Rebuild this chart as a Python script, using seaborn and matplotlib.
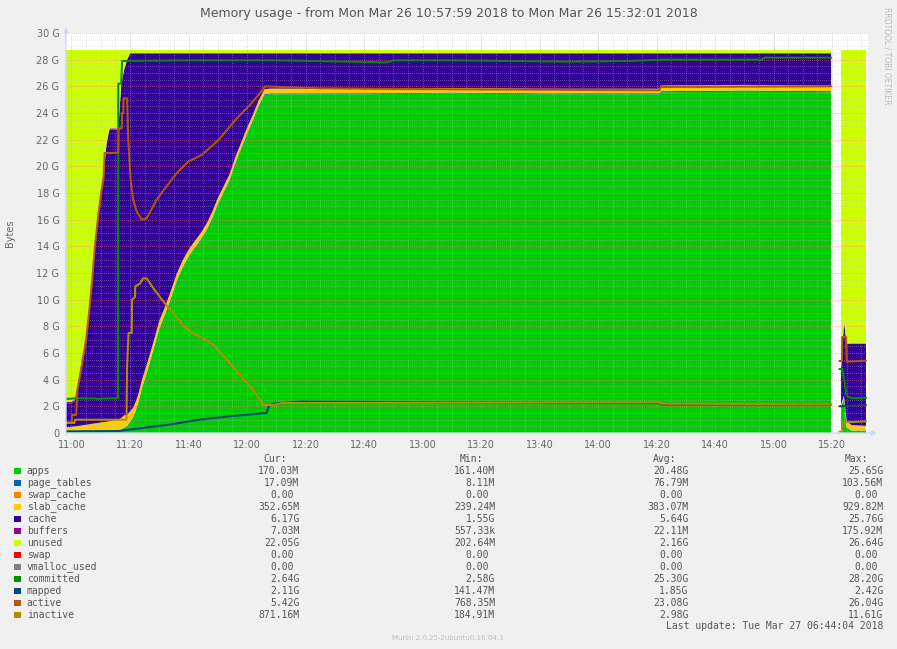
import numpy as np
import pandas as pd
import seaborn as sns
import matplotlib
matplotlib.use("Agg")
import matplotlib.pyplot as plt
from matplotlib.patches import Rectangle
from matplotlib.ticker import MultipleLocator

nan = np.nan

# time in minutes after 11:00, shared grid of the stacked areas (261 = no data)
t_area = [-2, -1, 0, 1, 2, 3, 4, 5, 6, 7, 8, 9, 10, 11, 12, 13, 14, 15, 16, 17, 18, 19, 20,
          21, 22, 23, 24, 26, 28, 30, 32, 34, 36, 38, 40, 42, 44, 46, 48, 50, 52, 54, 56, 58,
          60, 62, 64, 66, 68, 70, 100, 130, 160, 201, 201.5, 230, 259.7, 261,
          263.1, 264.1, 265.0, 266.7, 271.6]

# stacked areas, GB
apps = [0.17, 0.17, 0.17, 0.17, 0.17, 0.17, 0.17, 0.17, 0.17, 0.17, 0.17, 0.17, 0.17, 0.17,
        0.17, 0.17, 0.17, 0.17, 0.17, 0.25, 0.4, 0.5, 0.85, 1.15, 1.7, 2.4, 3.3,
        4.7, 6.2, 7.8, 8.9, 10.1, 11.4, 12.4, 13.2, 13.8, 14.4, 15.1, 16.0, 17.1, 18.0, 18.9,
        20.2, 21.3, 22.4, 23.4, 24.5, 25.35, 25.4, 25.4,
        25.4, 25.45, 25.4, 25.4, 25.55, 25.6, 25.55, nan,
        2.0, 2.5, 0.4, 0.17, 0.17]
page_tables = [0.02, 0.02, 0.02, 0.02, 0.02, 0.02, 0.02, 0.02, 0.02, 0.02, 0.02, 0.02, 0.02,
               0.02, 0.02, 0.02, 0.02, 0.02, 0.02, 0.02, 0.02, 0.02, 0.02, 0.02, 0.02, 0.02, 0.02,
               0.05, 0.05, 0.05, 0.05, 0.05, 0.05, 0.05, 0.05, 0.08, 0.08, 0.08, 0.08, 0.08, 0.08,
               0.08, 0.08, 0.08, 0.08, 0.08, 0.08, 0.08, 0.08, 0.08,
               0.09, 0.09, 0.09, 0.09, 0.09, 0.09, 0.09, nan,
               0.02, 0.02, 0.02, 0.02, 0.02]
slab_cache = [0.25, 0.25, 0.27, 0.3, 0.33, 0.36, 0.4, 0.43, 0.46, 0.5, 0.53, 0.56, 0.6, 0.63,
              0.66, 0.7, 0.73, 0.78, 0.82, 0.87, 0.9, 0.85, 0.75, 0.7, 0.65, 0.6, 0.6,
              0.58, 0.56, 0.55, 0.53, 0.52, 0.5, 0.5, 0.48, 0.47, 0.46, 0.45, 0.44, 0.43, 0.42,
              0.41, 0.4, 0.4, 0.39, 0.38, 0.37, 0.36, 0.35, 0.35,
              0.33, 0.33, 0.33, 0.33, 0.42, 0.42, 0.42, nan,
              0.1, 0.3, 0.45, 0.4, 0.35]
cache = [1.79, 1.79, 1.77, 1.89, 2.96, 4.13, 5.39, 6.66, 8.73, 10.99, 13.66, 15.63, 17.39,
         18.66, 20.83, 21.86, 21.83, 21.78, 21.74, 24.96, 25.88, 26.6, 26.85, 26.6, 26.1,
         25.45, 24.55,
         23.14, 21.66, 20.07, 18.99, 17.8, 16.52, 15.52, 14.74, 14.12, 13.53, 12.84, 11.95,
         10.86, 9.97, 9.08, 7.79, 6.69, 5.6, 4.61, 3.52, 2.68, 2.64, 2.64,
         2.65, 2.6, 2.65, 2.65, 2.41, 2.36, 2.41, nan,
         2.67, 5.57, 5.82, 6.12, 6.17]
buffers = [0.12, 0.12, 0.12, 0.12, 0.12, 0.12, 0.12, 0.12, 0.12, 0.12, 0.12, 0.12, 0.12, 0.12,
           0.12, 0.1, 0.1, 0.1, 0.1, 0.1, 0.1, 0.03, 0.03, 0.03, 0.03, 0.03, 0.03,
           0.03, 0.03, 0.03, 0.03, 0.03, 0.03, 0.03, 0.03, 0.03, 0.03, 0.03, 0.03, 0.03, 0.03,
           0.03, 0.03, 0.03, 0.03, 0.03, 0.03, 0.03, 0.03, 0.03,
           0.03, 0.03, 0.03, 0.03, 0.03, 0.03, 0.03, nan,
           0.01, 0.01, 0.01, 0.01, 0.01]
unused = [26.37, 26.37, 26.37, 26.22, 25.12, 23.92, 22.62, 21.32, 19.22, 16.92, 14.22, 12.22,
          10.42, 9.12, 6.92, 5.87, 5.87, 5.87, 5.87, 2.52, 1.42, 0.72, 0.22, 0.22, 0.22, 0.22,
          0.22,
          0.22, 0.22, 0.22, 0.22, 0.22, 0.22, 0.22, 0.22, 0.22, 0.22, 0.22, 0.22, 0.22, 0.22,
          0.22, 0.22, 0.22, 0.22, 0.22, 0.22, 0.22, 0.22, 0.22,
          0.22, 0.22, 0.22, 0.22, 0.22, 0.22, 0.22, nan,
          23.92, 20.32, 22.02, 22.0, 22.0]

# line series (own time points), GB
committed_t = [-2, 1, 8, 9, 12, 15.9, 16.0, 17.0, 17.3, 40, 70, 108, 110, 130, 170, 190, 202,
               236, 237, 259.7, 262.5, 263.5, 264.5, 265.0, 266.7, 271.6]
committed_v = [2.55, 2.6, 2.6, 2.55, 2.6, 2.6, 26.2, 26.2, 27.9, 27.95, 27.95, 27.8, 27.95,
               27.95, 27.85, 27.9, 28.0, 28.0, 28.15, 28.15, 4.8, 4.8, 3.5, 2.8, 2.6, 2.64]
mapped_t = [-2, 16, 23.4, 32.5, 43.9, 55.3, 66.7, 67.5, 69, 78, 140, 201, 201.5, 259.7,
            262.5, 271.6]
mapped_v = [0.12, 0.15, 0.35, 0.6, 1.0, 1.28, 1.5, 2.05, 2.2, 2.35, 2.3, 2.25, 2.15, 2.12,
            2.0, 2.11]
active_t = [-2, 0.1, 0.2, 1.6, 2, 3, 4, 5, 6, 7, 8, 9, 10, 11, 11.3, 16.0, 16.1, 17.2, 17.3,
            17.7, 17.8, 19.0, 19.4, 20.2, 21.1, 22.3, 24.0, 25.7, 29.1, 32.5, 36.0, 39.9, 44.5,
            47.9, 50.8, 54.2, 57.6, 61.0, 63.9, 66.2, 72, 85, 110, 150, 201, 201.5, 259.7,
            262.5, 263.4, 263.5, 264.8, 265.0, 271.6]
active_v = [0.8, 0.8, 1.35, 1.35, 3.2, 4.4, 5.7, 7.0, 9.0, 11.3, 14.0, 16.0, 17.8, 19.2, 21.0,
            21.0, 22.85, 22.85, 24.0, 24.0, 25.1, 25.1, 22.0, 19.0, 17.5, 16.6, 16.0, 16.1,
            17.5, 18.5, 19.5, 20.35, 20.85, 21.5, 22.1, 23.0, 23.85, 24.6, 25.35, 26.0, 25.95,
            25.85, 25.8, 25.75, 25.7, 25.95, 26.0,
            5.4, 5.4, 7.2, 7.2, 5.35, 5.42]
inactive_t = [-2, 1.0, 1.2, 18.8, 19.0, 19.5, 20.6, 20.7, 21.7, 21.8, 23.4, 24.5, 25.7, 28.5,
              32.0, 34.8, 37.7, 40.5, 45.1, 48.5, 53.1, 57.6, 62.2, 65.6, 69.0, 72.0, 150,
              201, 201.5, 259.7, 262.5, 263.4, 263.5, 271.6]
inactive_v = [0.75, 0.75, 1.0, 1.0, 5.0, 7.5, 7.5, 10.0, 10.2, 11.0, 11.2, 11.6, 11.6, 10.7,
              9.7, 9.0, 8.2, 7.6, 7.1, 6.6, 5.5, 4.35, 3.2, 2.1, 2.1, 2.25, 2.3, 2.3, 2.2, 2.15,
              0.1, 0.1, 0.8, 0.87]

# legend table
legend_names = ['apps', 'page_tables', 'swap_cache', 'slab_cache', 'cache', 'buffers',
                'unused', 'swap', 'vmalloc_used', 'committed', 'mapped', 'active', 'inactive']
legend_colors = ['#00CC00', '#0066B3', '#FF8000', '#FFCC00', '#330099', '#990099', '#CCFF00',
                 '#FF0000', '#808080', '#008F00', '#00487D', '#B35A00', '#B38F00']
cur_vals = ['170.03M', '17.09M', '0.00', '352.65M', '6.17G', '7.03M', '22.05G', '0.00',
            '0.00', '2.64G', '2.11G', '5.42G', '871.16M']
min_vals = ['161.40M', '8.11M', '0.00', '239.24M', '1.55G', '557.33k', '202.64M', '0.00',
            '0.00', '2.58G', '141.47M', '768.35M', '184.91M']
avg_vals = ['20.48G', '76.79M', '0.00', '383.07M', '5.64G', '22.11M', '2.16G', '0.00',
            '0.00', '25.30G', '1.85G', '23.08G', '2.98G']
max_vals = ['25.65G', '103.56M', '0.00', '929.82M', '25.76G', '175.92M', '26.64G', '0.00',
            '0.00', '28.20G', '2.42G', '26.04G', '11.61G']

x_ticks = [0, 20, 40, 60, 80, 100, 120, 140, 160, 180, 200, 220, 240, 260]
x_labels = ['11:00', '11:20', '11:40', '12:00', '12:20', '12:40', '13:00', '13:20', '13:40',
            '14:00', '14:20', '14:40', '15:00', '15:20']
y_ticks = [0, 2, 4, 6, 8, 10, 12, 14, 16, 18, 20, 22, 24, 26, 28, 30]
y_labels = ['0', '2 G', '4 G', '6 G', '8 G', '10 G', '12 G', '14 G', '16 G', '18 G', '20 G',
            '22 G', '24 G', '26 G', '28 G', '30 G']

sns.set_theme(style='white')
plt.rcParams['font.family'] = ['DejaVu Sans']
FONT = '#666666'
W, H = 897, 649

fig = plt.figure(figsize=(W / 100, H / 100), dpi=100, facecolor='#F0F0F0')
ax = fig.add_axes([66 / W, (H - 433) / H, 802 / W, 400 / H])
ax.set_facecolor('white')

col = dict(zip(legend_names, legend_colors))
ax.stackplot(t_area, apps, page_tables, slab_cache, cache, buffers, unused,
             colors=[col['apps'], col['page_tables'], col['slab_cache'], col['cache'],
                     col['buffers'], col['unused']], linewidth=0, zorder=1)

rows = []
for name, ts, vs in [('committed', committed_t, committed_v), ('mapped', mapped_t, mapped_v),
                     ('active', active_t, active_v), ('inactive', inactive_t, inactive_v)]:
    for t, v in zip(ts, vs):
        seg = 0 if t < 261 else 1
        rows.append((name, t, v, f'{name}{seg}'))
lines = pd.DataFrame(rows, columns=['series', 't', 'value', 'unit'])
sns.lineplot(data=lines, x='t', y='value', hue='series', units='unit', estimator=None,
             sort=False, hue_order=['committed', 'mapped', 'active', 'inactive'],
             palette=col, linewidth=1.45, legend=False, ax=ax, zorder=3)

ax.set_xlim(-1.88, 272.3)
ax.set_ylim(0, 30)
ax.set_xticks(x_ticks)
ax.set_xticklabels(x_labels)
ax.set_yticks(y_ticks)
ax.set_yticklabels(y_labels)
ax.xaxis.set_minor_locator(MultipleLocator(5))
ax.yaxis.set_minor_locator(MultipleLocator(0.5))
ax.set_xlabel('')
ax.set_ylabel('')
ax.set_axisbelow(False)
ax.grid(which='minor', color='#C0C0C0', alpha=0.35, linestyle=(0, (1, 2)), linewidth=0.72,
        antialiased=False)
ax.grid(which='major', color='#FF8080', alpha=0.45, linestyle=(0, (1, 2)), linewidth=0.72,
        antialiased=False)
ax.tick_params(which='major', length=2.2, width=0.72, color='#F0A0A0', labelsize=7,
               labelcolor=FONT, pad=2.5)
ax.tick_params(which='minor', length=1.5, width=0.72, color='#C8C8C8')
for s in ax.spines.values():
    s.set_visible(False)

arrow = dict(arrowstyle='-|>', color='#CFD6F8', lw=1, mutation_scale=7, shrinkA=0, shrinkB=0)
ax.annotate('', xy=(0, 1.014), xytext=(0, 0), xycoords='axes fraction', arrowprops=arrow,
            annotation_clip=False)
ax.annotate('', xy=(1.011, 0), xytext=(0, 0), xycoords='axes fraction', arrowprops=arrow,
            annotation_clip=False)

# text in pixel coordinates
px = fig.add_axes([0, 0, 1, 1], zorder=-1)
px.set_xlim(0, W)
px.set_ylim(H, 0)
px.axis('off')

px.text(448.5, 13, 'Memory usage - from Mon Mar 26 10:57:59 2018 to Mon Mar 26 15:32:01 2018',
        ha='center', va='center', fontsize=9, color='#555555')
px.text(10, 233, 'Bytes', rotation=90, ha='center', va='center', fontsize=7, color=FONT)
px.text(887, 56, 'RRDTOOL / TOBI OETIKER', rotation=270, ha='center', va='center',
        fontsize=5.5, color='#BBBBBB')

mono = dict(family='DejaVu Sans Mono', fontsize=7, color='#555555', va='center')
char_w = 5.9
for label, xl in [('Cur:', 263.3), ('Min:', 459.3), ('Avg:', 652.7), ('Max:', 844.3)]:
    px.text(xl, 458.5, label, ha='left', **mono)
for i, name in enumerate(legend_names):
    y = 470.5 + 12 * i
    px.add_patch(Rectangle((14, y - 3), 6.5, 6.5, color=legend_colors[i], lw=0))
    px.text(26.7, y, name, ha='left', **mono)
    for vals, xr in [(cur_vals, 299.3), (min_vals, 495), (avg_vals, 688.3), (max_vals, 883.3)]:
        v = vals[i]
        shift = 0 if v[-1].isalpha() else char_w
        px.text(xr - shift, y, v, ha='right', **mono)
px.text(883.3, 626, 'Last update: Tue Mar 27 06:44:04 2018', ha='right', **mono)
px.text(448, 638, 'Munin 2.0.25-2ubuntu0.16.04.3', ha='center', va='center', fontsize=5,
        color='#C0C0C0')

fig.savefig('out.png', dpi=100, facecolor=fig.get_facecolor())
